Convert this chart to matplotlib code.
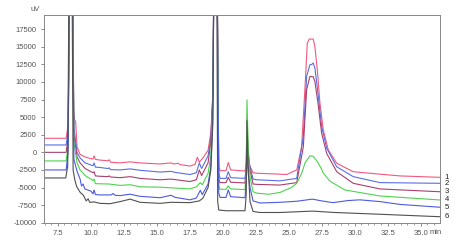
import matplotlib
matplotlib.use("Agg")
from matplotlib import pyplot as plt
from matplotlib.ticker import MultipleLocator

plt.rcParams['font.family'] = ['Liberation Sans', 'DejaVu Sans']

# digitised chromatograms: retention time (min) and signal (uV)
t1 = [6.46, 8.13, 8.28, 8.40, 8.62, 8.70, 8.78, 8.85, 8.96, 9.19, 9.57, 10.0, 10.17, 10.25, 10.35, 10.70,
      11.30, 11.39, 11.50, 12.22, 12.98, 13.73, 15.25, 16.08, 16.30, 16.61, 16.80, 17.52, 17.90, 18.08, 18.23,
      18.50, 18.89, 19.10, 19.25, 19.33, 19.58, 19.70, 19.80, 20.25, 20.42, 20.60, 21.69, 21.78, 21.84, 21.93,
      22.00, 22.07, 22.30, 22.58, 24.34, 24.85, 25.61, 25.98, 26.24, 26.41, 26.56, 26.86, 26.99, 27.17, 27.37,
      27.62, 28.00, 28.64, 29.89, 31.92, 33.43, 36.46]
v1 = [2000, 2000, 4000, 25000, 25000, 6000, 4600, 4400, 770, -300, -650, -900, -950, -500, -1000, -1100,
      -1200, -1050, -1400, -1500, -1350, -1500, -1650, -1500, -1650, -1550, -1750, -1950, -1700, -700, -1400,
      -800, 300, 2800, 8000, 25000, 25000, -2000, -2600, -2600, -1450, -2500, -2650, -1800, -800, -2000,
      -2400, -2000, -2900, -2970, -3100, -3150, -2500, 800, 9300, 15500, 16100, 16100, 15000, 11700, 7000,
      3200, 350, -1550, -2750, -3100, -3350, -3550]

t2 = [6.46, 8.13, 8.28, 8.40, 8.62, 8.72, 8.96, 9.19, 9.57, 10.17, 10.25, 10.35, 10.70, 11.30, 11.39, 11.50,
      12.22, 12.98, 13.73, 15.25, 16.08, 16.40, 17.52, 18.00, 18.23, 18.40, 18.89, 19.10, 19.25, 19.33, 19.58,
      19.70, 19.80, 20.25, 20.42, 20.60, 21.69, 21.78, 21.84, 21.93, 22.07, 22.30, 22.58, 24.34, 25.61, 26.11,
      26.36, 26.61, 26.75, 26.86, 26.99, 27.22, 27.50, 27.88, 28.64, 29.89, 31.92, 36.46]
v2 = [1050, 1050, 3000, 25000, 25000, 3500, 0, -800, -1500, -1900, -1500, -2100, -2150, -2300, -2200, -2450,
      -2500, -2350, -2550, -2800, -2700, -2850, -3150, -2900, -1500, -2300, -500, 2000, 8000, 25000, 25000,
      -3000, -3700, -3700, -2750, -3600, -3700, -2000, 1800, -500, -2000, -3800, -3900, -4050, -3700, 2250,
      10800, 12450, 12500, 12700, 11950, 8400, 3650, 600, -2050, -3450, -4300, -4400]

t3 = [6.46, 8.13, 8.28, 8.40, 8.62, 8.72, 8.96, 9.19, 9.57, 10.17, 10.25, 10.35, 10.70, 11.30, 11.39, 11.50,
      12.22, 12.98, 13.73, 15.25, 16.08, 17.52, 18.00, 18.23, 18.40, 18.89, 19.10, 19.25, 19.33, 19.58, 19.70,
      19.80, 20.25, 20.42, 20.60, 21.69, 21.78, 21.84, 21.93, 22.07, 22.30, 22.58, 24.34, 25.61, 26.11, 26.36,
      26.61, 26.86, 26.99, 27.22, 27.50, 27.88, 28.64, 29.89, 31.92, 36.46]
v3 = [0, 0, 2000, 25000, 25000, 2500, -650, -1500, -2300, -2900, -2750, -3350, -3400, -3450, -3350, -3500,
      -3600, -3450, -3700, -3900, -3800, -4150, -3900, -2500, -3300, -1500, 1500, 8000, 25000, 25000, -3800,
      -4300, -4300, -3550, -4250, -4350, -2000, 4800, 0, -2500, -4500, -4550, -4650, -4300, 800, 8900,
      10800, 10750, 10050, 7000, 2700, -150, -2750, -4400, -5200, -5600]

t4 = [6.46, 8.13, 8.28, 8.40, 8.62, 8.72, 8.96, 9.19, 9.57, 10.17, 10.25, 10.35, 11.39, 12.22, 12.98, 13.73,
      15.25, 17.52, 18.00, 18.30, 18.45, 18.89, 19.10, 19.25, 19.33, 19.58, 19.70, 19.80, 20.25, 20.42, 20.60,
      21.69, 21.78, 21.84, 21.93, 22.07, 22.30, 22.58, 23.50, 24.34, 25.20, 25.61, 25.98, 26.24, 26.61, 26.86,
      27.17, 27.50, 27.62, 28.13, 29.27, 31.92, 36.46]
v4 = [-1220, -1220, 1000, 25000, 25000, 1500, -1500, -2500, -3300, -4000, -3800, -4450, -4500, -4700, -4600, -4900,
      -4950, -5200, -4900, -4300, -4600, -3000, -500, 7000, 25000, 25000, -4800, -5250, -5250, -4780, -5200,
      -5300, -3000, 7450, 1000, -3500, -5600, -5800, -5950, -5700, -5000, -4400, -3000, -1500, -500, -550,
      -1300, -2400, -2950, -4100, -5350, -6200, -6770]

t5 = [6.46, 8.13, 8.28, 8.40, 8.62, 8.72, 8.96, 9.19, 9.30, 9.42, 9.55, 10.0, 10.17, 10.25, 10.35, 10.70,
      11.55, 11.69, 11.85, 12.22, 12.98, 13.73, 15.25, 16.08, 16.40, 17.52, 18.00, 18.30, 18.45, 18.89, 19.10,
      19.25, 19.33, 19.58, 19.70, 19.80, 20.25, 20.42, 20.60, 21.69, 21.78, 21.84, 21.93, 22.07, 22.30, 22.83,
      24.34, 25.61, 26.80, 27.50, 28.35, 29.50, 30.40, 31.92, 33.43, 36.46]
v5 = [-2500, -2500, 0, 25000, 25000, -1000, -2700, -3800, -4800, -4500, -5200, -5500, -5900, -5350, -6000, -6050,
      -6050, -5850, -6100, -6150, -5950, -6250, -6450, -6100, -6400, -6750, -6500, -5400, -6000, -4500, -2000,
      5000, 25000, 25000, -5800, -6400, -6400, -5350, -6300, -6450, -4000, 500, -3000, -5000, -6900, -7200,
      -7100, -6950, -6650, -6900, -7150, -6850, -6750, -7000, -7400, -7800]

t6 = [6.46, 8.10, 8.25, 8.35, 8.58, 8.66, 8.80, 8.94, 9.20, 9.44, 9.65, 9.80, 9.92, 10.25, 10.70, 11.46,
      12.22, 12.98, 13.73, 15.25, 16.08, 17.52, 18.23, 18.50, 18.89, 19.10, 19.25, 19.33, 19.55, 19.62, 19.70,
      20.25, 21.69, 21.78, 21.84, 21.93, 22.07, 22.30, 22.83, 24.34, 26.80, 28.50, 31.92, 36.46]
v6 = [-3640, -3640, -2000, 25000, 25000, -2500, -4000, -4900, -5700, -6100, -6900, -6600, -7100, -7050, -7250, -7300,
      -7000, -6650, -7100, -7250, -7100, -7150, -6900, -6500, -5000, -2500, 4000, 25000, 25000, -7000, -8200,
      -8300, -8300, -6000, 4500, -2000, -7000, -8400, -8550, -8550, -8350, -8550, -8800, -9150]

times = [t1, t2, t3, t4, t5, t6]
signals = [v1, v2, v3, v4, v5, v6]
names = ['1', '2', '3', '4', '5', '6']
colors = ['#f2587e', '#5a6ee6', '#a8406c', '#4ed24e', '#4c5ae0', '#505050']

y_ticks = list(range(-10000, 17501, 2500))
x_ticks = [7.5, 10.0, 12.5, 15.0, 17.5, 20.0, 22.5, 25.0, 27.5, 30.0, 32.5, 35.0]

fig = plt.figure(figsize=(4.74, 2.48), dpi=100)
ax = fig.add_axes([0.093, 0.102, 0.835, 0.838])

for t, v, c in zip(times, signals, colors):
    ax.plot(t, v, color=c, lw=0.8)

# trace numbers at the right end of each trace
for v, n in zip(signals, names):
    ax.annotate(n, xy=(1.0, v[-1]), xycoords=('axes fraction', 'data'),
                xytext=(5, 0), textcoords='offset points', ha='center', va='center',
                fontsize=5.6, color='#222222', annotation_clip=False)

ax.set_xlim(6.46, 36.46)
ax.set_ylim(-10000, 19540)
ax.set_xticks(x_ticks)
ax.set_xticklabels(['%.1f' % x for x in x_ticks])
ax.xaxis.set_minor_locator(MultipleLocator(0.5))
ax.set_yticks(y_ticks)
ax.set_yticklabels([str(y) for y in y_ticks])
ax.tick_params(axis='both', which='major', length=2.5, width=0.6, colors='#777777',
               labelsize=5.5, labelcolor='#555555', pad=3)
ax.tick_params(axis='x', which='minor', length=1.5, width=0.5, colors='#777777')
for s in ax.spines.values():
    s.set_color('#888888')
    s.set_linewidth(0.7)

ax.text(-0.01, 1.01, 'uV', transform=ax.transAxes, ha='right', va='bottom', fontsize=5.5, color='#555555')
ax.text(0.99, -0.045, 'min', transform=ax.transAxes, ha='center', va='center', fontsize=5.5, color='#555555')

fig.savefig('out.png', dpi=100)
